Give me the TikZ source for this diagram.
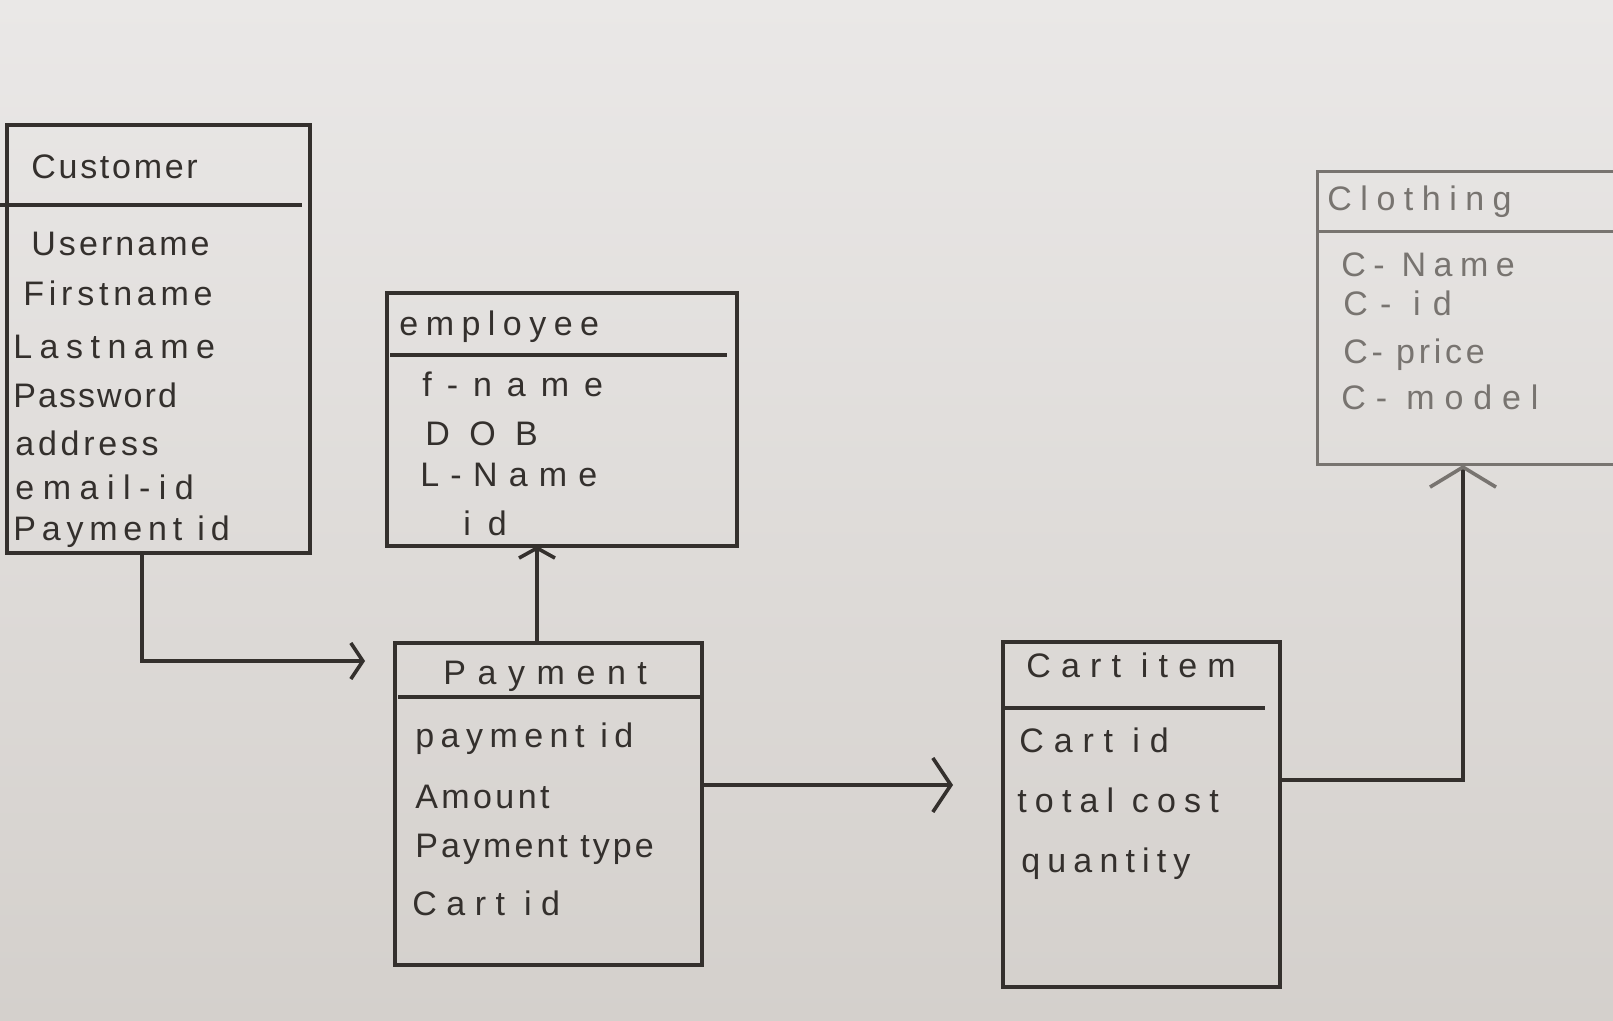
\documentclass[tikz,border=0pt]{standalone}
\usepackage{fontspec}
\setmainfont{Liberation Sans}
\usetikzlibrary{arrows.meta,fit}
\definecolor{papertop}{RGB}{234,232,231}
\definecolor{paperbot}{RGB}{212,208,204}
\definecolor{ink}{RGB}{52,48,45}
\definecolor{pencil}{RGB}{120,116,112}
\newcommand\lsp[2]{{\addfontfeatures{LetterSpace=#1}#2}}
\begin{document}
\begin{tikzpicture}[x=0.5pt,y=-0.5pt,
  entity/.style={draw=ink, line width=2pt, inner sep=0pt, outer sep=0pt},
  pentity/.style={entity, draw=pencil, line width=1.5pt},
  sep/.style={draw=ink, line width=2pt},
  psep/.style={draw=pencil, line width=1.5pt},
  txt/.style={anchor=west, inner sep=0pt, text=ink, font=\fontsize{17pt}{20pt}\selectfont, text height=12pt, text depth=3.6pt},
  ptxt/.style={txt, text=pencil},
  conn/.style={draw=ink, line width=1.8pt}
]
\shade[top color=papertop, bottom color=paperbot] (0,0) rectangle (1613,1021);
\clip (0,0) rectangle (1613,1021);

% ---------- entities ----------
\node[entity, fit={(7,125) (310,553)}] (cust) {};
\node[entity, fit={(387,293) (737,546)}] (emp) {};
\node[entity, fit={(395,643) (702,965)}] (pay) {};
\node[entity, fit={(1003,642) (1280,987)}] (cart) {};
\node[pentity, fit={(1317,172) (1650,465)}] (cloth) {};

% header separators
\draw[sep] (0,205) -- (302,205);
\draw[sep] (390,355) -- (727,355);
\draw[sep] (398,697) -- (700,697);
\draw[sep] (1003,708) -- (1265,708);
\draw[psep] (1318,232) -- (1613,232);

% ---------- Customer ----------
\node[txt] (custT) at (31,170) {\lsp{8}{Customer}};
\node[txt] (cust1) at (31,247) {\lsp{9}{Username}};
\node[txt] (cust2) at (23,297) {\lsp{14}{Firstname}};
\node[txt] (cust3) at (13,350) {\lsp{22}{Lastname}};
\node[txt] (cust4) at (13,399) {\lsp{6}{Password}};
\node[txt] (cust5) at (15,447) {\lsp{11}{address}};
\node[txt] (cust6) at (15,491) {\lsp{25}{email-id}};
\node[txt] (cust7) at (13,532) {\lsp{17}{Payment id}};

% ---------- employee ----------
\node[txt] (empT) at (399,327) {\lsp{22}{employee}};
\node[txt] (emp1) at (422,388) {\lsp{44}{f-name}};
\node[txt] (emp2) at (425,437) {\lsp{57}{DOB}};
\node[txt] (emp3) at (420,478) {\lsp{33}{L-Name}};
\node[txt] (emp4) at (463,527) {\lsp{50}{id}};

% ---------- Payment ----------
\node[txt] (payT) at (443,676) {\lsp{34}{Payment}};
\node[txt] (pay1) at (415,739) {\lsp{19}{payment id}};
\node[txt] (pay2) at (415,800) {\lsp{10}{Amount}};
\node[txt] (pay3) at (415,849) {\lsp{9}{Payment type}};
\node[txt] (pay4) at (412,907) {\lsp{28}{Cart id}};

% ---------- Cart item ----------
\node[txt] (cartT) at (1026,669) {\lsp{30}{Cart item}};
\node[txt] (cart1) at (1019,744) {\lsp{29}{Cart id}};
\node[txt] (cart2) at (1017,804) {\lsp{24}{total cost}};
\node[txt] (cart3) at (1021,864) {\lsp{21}{quantity}};

% ---------- Clothing ----------
\node[ptxt] (clothT) at (1327,202) {\lsp{25}{Clothing}};
\node[ptxt] (cloth1) at (1341,268) {\lsp{22}{C- Name}};
\node[ptxt] (cloth2) at (1343,307) {\lsp{36}{C- id}};
\node[ptxt] (cloth3) at (1343,355) {\lsp{11}{C- price}};
\node[ptxt] (cloth4) at (1341,401) {\lsp{29}{C- model}};

% ---------- connectors ----------
\coordinate (k1) at (142,0);
\coordinate (e1) at (365,661);
\draw[conn, -{Straight Barb[length=6pt,width=18pt]}] (cust.south -| k1) |- (e1);

\coordinate (k2) at (537,0);
\draw[conn, -{Straight Barb[length=5pt,width=18pt]}] (pay.north -| k2) -- (emp.south -| k2);

\coordinate (e3) at (953,785);
\draw[conn, -{Straight Barb[length=9pt,width=27pt]}] (pay.east |- e3) -- (e3);

\coordinate (k4) at (1463,780);
\draw[conn, -{Straight Barb[length=10pt,width=33pt,color=pencil]}] (cart.east |- k4) -| (cloth.south -| k4);
\end{tikzpicture}
\end{document}
